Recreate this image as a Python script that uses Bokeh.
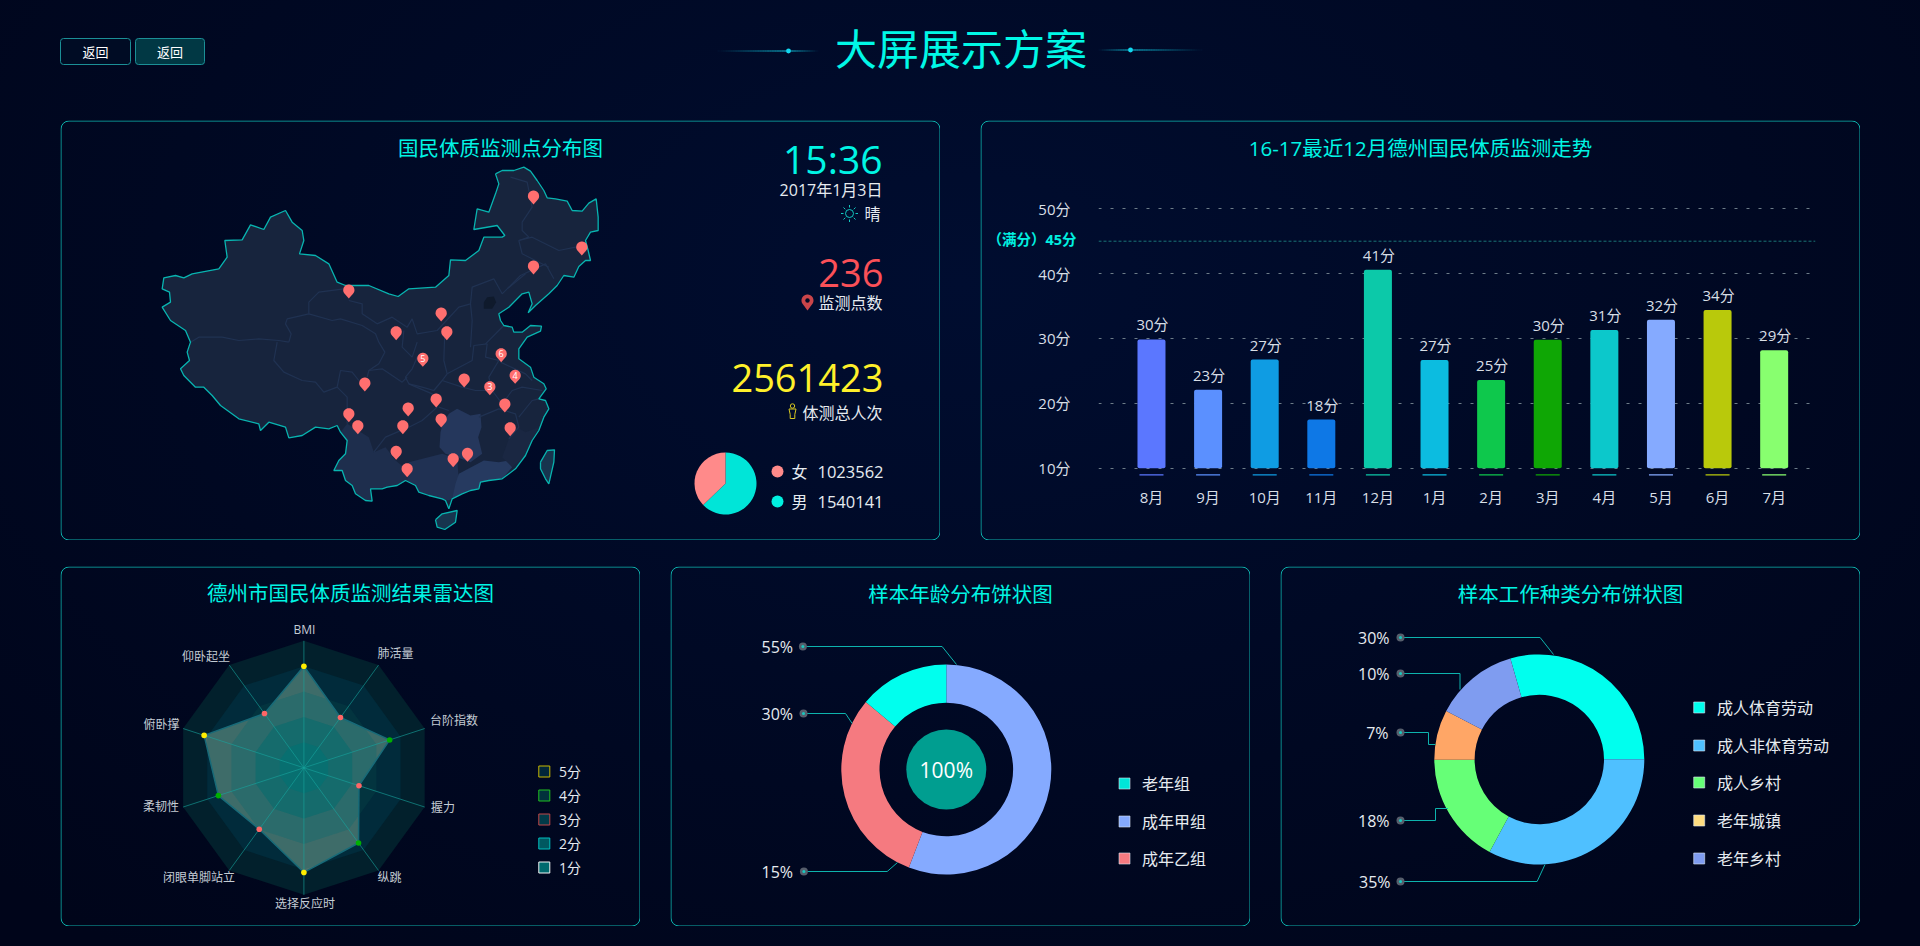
import numpy as np
from bokeh.core.properties import value
from bokeh.embed import file_html
from bokeh.layouts import column, row
from bokeh.models import BoxAnnotation, FixedTicker, GlobalInlineStyleSheet, Label, Range1d, Span
from bokeh.plotting import figure
from bokeh.resources import INLINE

# ------------------------------------------------------------------ data
page_title = "大屏展示方案"
button_labels = ["返回", "返回"]

months = ["8月", "9月", "10月", "11月", "12月", "1月", "2月", "3月", "4月", "5月", "6月", "7月"]
bar_values = [29.85, 22.1, 26.76, 17.5, 40.6, 26.7, 23.6, 29.8, 31.3, 32.9, 34.4, 28.2]
bar_labels = ["30分", "23分", "27分", "18分", "41分", "27分", "25分", "30分", "31分", "32分", "34分", "29分"]
bar_colors = ["#5b77ff", "#5b90ff", "#0f9ce3", "#0e78e6", "#0cc9a9", "#0cbce0",
              "#0ec84c", "#0fa705", "#0cc8cb", "#85aaff", "#b9c90b", "#88ff6f"]
y_ticks = [10, 20, 30, 40, 50]

radar_axes = ["BMI", "肺活量", "台阶指数", "握力", "纵跳", "选择反应时", "闭眼单脚站立", "柔韧性", "俯卧撑", "仰卧起坐"]
radar_values = [4.0, 2.45, 3.55, 2.28, 3.66, 4.12, 2.99, 3.54, 4.13, 2.64]
radar_point_colors = ["#ffee00", "#ff6666", "#00b000", "#ff6666", "#00b000",
                      "#ffee00", "#ff6666", "#00b000", "#ffee00", "#ff6666"]
radar_legend = ["5分", "4分", "3分", "2分", "1分"]

gender_labels = ["女", "男"]
gender_counts = ["1023562", "1540141"]
gender_share = [37.2, 62.8]

age_names = ["老年组", "成年甲组", "成年乙组"]
age_share = [13.9, 55.8, 30.3]
age_labels = ["15%", "55%", "30%"]

job_names = ["成人体育劳动", "成人非体育劳动", "成人乡村", "老年城镇", "老年乡村"]
job_share = [29.4, 32.9, 17.1, 7.7, 12.9]
job_labels = ["30%", "35%", "18%", "7%", "10%"]

# China map in the map's own units
china_outline = [(1020,40),(1040,30),(1075,30),(1105,20),(1125,32),(1145,60),(1165,90),(1175,112),(1200,115),(1235,122),
 (1250,150),(1280,152),(1300,128),(1322,115),(1328,170),(1328,210),(1305,215),(1290,240),(1298,270),(1305,300),(1290,300),
 (1270,318),(1255,350),(1225,345),(1205,375),(1180,400),(1140,435),(1118,457),(1130,430),(1120,395),(1100,400),(1060,440),
 (1030,460),(1035,480),(1045,495),(1070,500),(1075,515),(1100,515),(1125,495),(1158,497),(1155,512),(1115,530),(1090,565),
 (1090,595),(1125,620),(1135,650),(1165,670),(1172,685),(1150,715),(1170,720),(1180,745),(1165,770),(1150,810),(1130,840),
 (1110,885),(1080,925),(1040,955),(1000,960),(975,965),(970,985),(945,990),(920,1000),(890,1015),(880,1045),(870,1020),
 (860,1015),(820,1005),(790,995),(780,975),(750,960),(725,975),(695,980),(680,985),(645,985),(650,1022),(630,1020),
 (600,1000),(590,975),(570,960),(560,930),(535,930),(550,900),(570,880),(575,840),(555,815),(545,795),(520,805),(480,800),
 (440,825),(400,832),(390,800),(340,785),(315,810),(310,790),(250,775),(195,735),(170,705),(145,680),(120,680),(85,645),
 (75,625),(102,600),(95,575),(105,545),(90,510),(45,480),(20,440),(45,425),(42,395),(20,385),(25,352),(60,345),(85,352),
 (110,340),(190,325),(215,290),(208,240),(260,238),(285,193),(325,207),(345,170),(390,150),(410,185),(440,210),(445,240),
 (432,280),(480,285),(520,310),(545,365),(570,375),(640,375),(700,400),(728,408),(760,385),(840,380),(880,345),(885,298),
 (930,300),(970,270),(985,230),(1040,230),(1048,225),(1025,195),(955,207),(965,145),(1000,155),(1020,100),(1030,70)]
taiwan = [(1155,905),(1175,870),(1197,868),(1195,905),(1180,970),(1170,955),(1155,925)]
hainan = [(840,1078),(860,1060),(905,1050),(900,1085),(868,1107),(845,1100)]
yunnan = [(575,790),(640,830),(655,875),(690,860),(720,900),(750,925),(755,960),(725,975),(680,985),(645,985),(650,1022),
 (630,1020),(600,1000),(590,975),(570,960),(560,930),(535,930),(550,900),(570,880),(575,840),(555,815)]
guangxi = [(755,960),(760,905),(860,880),(905,895),(910,960),(890,1015),(880,1020),(860,1015),(820,1005),(790,995),(780,975)]
guangdong = [(910,940),(985,900),(1030,905),(1060,900),(1070,920),(1040,955),(1000,960),(975,965),(970,985),(945,990),
 (920,1000),(890,1015),(900,970)]
hunan = [(855,815),(862,790),(880,760),(905,745),(945,765),(975,760),(978,800),(968,830),(980,880),(945,905),(905,890),(870,880),(852,860)]
fujian = [(1040,890),(1060,835),(1085,800),(1110,815),(1150,800),(1130,840),(1110,885),(1070,920)]
beijing = [(985,425),(995,410),(1015,408),(1022,425),(1010,445),(985,445)]
map_borders = [
 [(105,545),(130,530),(200,530),(250,540),(310,535),(370,540),(400,545)],
 [(400,545),(407,520),(390,490),(395,475),(460,460),(530,480),(555,475),(620,495),(660,520),(670,545),(688,575),(670,610),(640,630),(635,650)],
 [(365,545),(355,600),(385,635),(440,660),(480,665),(505,695),(545,680),(555,630),(590,635),(610,660)],
 [(460,460),(460,425),(490,395),(565,385)],
 [(580,420),(620,430),(620,460),(665,490),(710,470),(755,500),(770,475),(785,520),(845,510),(910,440),(945,430),(950,380),(1015,355),(1040,400),(1095,345),(1170,310),(1195,355)],
 [(745,510),(740,560),(770,590),(785,545)],
 [(868,510),(865,600),(875,640),(860,660),(835,690),(800,680),(760,670),(750,650),(770,625),(785,590)],
 [(640,630),(680,625),(740,665),(755,650)],
 [(545,680),(575,710),(575,790)],
 [(760,670),(830,700),(845,740),(800,780),(760,800),(690,830),(655,875)],
 [(875,640),(950,600),(955,555),(995,550),(990,590),(1030,600),(1000,650),(1010,690),(960,690),(920,680),(860,660)],
 [(945,430),(950,480),(945,560)],
 [(990,550),(1045,495)],
 [(1035,605),(1110,640),(1130,660)],
 [(1010,690),(1040,730),(1070,690),(1100,680),(1160,690)],
 [(970,770),(1030,745),(1080,760),(1090,800),(1060,835)],
 [(850,740),(880,750)],
 [(1090,770),(1130,720),(1150,715)],
 [(1065,50),(1115,65),(1130,140),(1100,185),(1100,210),(1120,230),(1090,240),(1100,280),(1180,320)],
 [(1090,240),(1130,230),(1210,270),(1260,260),(1290,245)],
 [(1055,385),(1110,340)],
]
pins_x = [1134,1279,1134,580,857,874,722,802,1037,1079,926,1003,628,842,1048,758,580,857,607,742,1064,722,936,893,755]
pins_y = [132,285,342,414,483,539,539,619,605,670,681,704,693,741,756,768,785,801,821,821,827,898,904,920,950]
pins_tag = ["","","","","","","","5","6","4","","3","","","","","","","","","","","","",""]

# ------------------------------------------------------------------ style
FONT = "'Open Sans','Noto Sans CJK SC'"
CYAN = "#00f5e4"
TEAL = "#0db3ad"
WHITE = "#e6ebf0"
FONTV = value(FONT)


def panel(x0, y0, w, h, **kw):
    p = figure(width=w, height=h, x_range=Range1d(x0, x0 + w), y_range=Range1d(y0 + h, y0),
               toolbar_location=None, tools="", output_backend="svg", min_border=0,
               background_fill_alpha=0, border_fill_alpha=0, outline_line_color=None,
               x_axis_type=None, y_axis_type=None, frame_align=False, **kw)
    p.grid.visible = False
    return p


def frame(p, w, h):
    p.add_layout(BoxAnnotation(left=0.5, right=w - 0.5, top=0.5, bottom=h - 0.5,
                               left_units="canvas", right_units="canvas", top_units="canvas", bottom_units="canvas",
                               fill_alpha=0, line_color=TEAL, line_alpha=1, line_width=1, border_radius=8))


def heading(p, text, w, top):
    p.add_layout(Label(x=w / 2, y=top, x_units="canvas", y_units="canvas", text=text, text_align="center",
                       text_baseline="middle", text_color=CYAN, text_font_size="20.5px", text_font=FONT))


def txt(p, x, y, s, size=16, color=WHITE, align="left", style="normal"):
    p.text([x], [y], text=[s], text_font=FONTV, text_font_size=f"{size}px", text_color=color,
           text_align=align, text_baseline="middle", text_font_style=style)


def top_angles(shares, start=0.0):
    """Slice limits, clockwise from twelve o'clock, as Bokeh angles."""
    c = np.cumsum([0.0] + list(shares)) / sum(shares) * 2 * np.pi + np.deg2rad(start)
    return np.pi / 2 - c[:-1], np.pi / 2 - c[1:]


def ring(p, cx, cy, r0, r1, shares, colors, start=0.0):
    a0, a1 = top_angles(shares, start)
    p.annular_wedge(x=[cx] * len(shares), y=[cy] * len(shares), inner_radius=r0, outer_radius=r1,
                    start_angle=a0, end_angle=a1, direction="clock", fill_color=colors, line_color=None)


def callout(p, x_path, y_path, label, text_right):
    p.line(x_path, y_path, line_color=TEAL, line_width=1)
    p.circle([x_path[0]], [y_path[0]], radius=4, fill_color="#565e6c", line_color=None)
    p.circle([x_path[0]], [y_path[0]], radius=1.5, fill_color="#19c8c0", line_color=None)
    txt(p, text_right, y_path[0], label, 16, WHITE, "right")


def legend_block(p, x, ys, names, colors, tx, size=16, line="#d8e4f0"):
    p.rect([x] * len(ys), ys, width=11, height=11, fill_color=colors, line_color=line, line_width=0.6)
    for y, n in zip(ys, names):
        txt(p, tx, y, n, size, WHITE)


def teardrop(x_tip, y_tip, r, length):
    d = length - r
    t = np.arccos(r / d)
    phi = np.linspace(t, 2 * np.pi - t, 28)
    cy = y_tip - d
    xs = np.r_[x_tip, x_tip + r * np.sin(phi)]
    ys = np.r_[y_tip, cy + r * np.cos(phi)]
    return xs, ys


# ------------------------------------------------------------------ header
head = panel(0, 0, 1904, 120)
btn_left = [60, 135]
btn_right = [130, 204]
head.quad(left=btn_left, right=btn_right, top=[38, 38], bottom=[64, 64], fill_color=["#000c24", "#013844"],
          line_color="#1b8f96", border_radius=3)
for xl, xr, s in zip(btn_left, btn_right, button_labels):
    txt(head, (xl + xr) / 2, 51, s, 13, "#ffffff", "center")
txt(head, 960.5, 48, page_title, 42, "#00f8e6", "center")


def glow(p, x0, x1, xd, y):
    xs = np.linspace(x0, x1, 61)
    mid = 0.5 * (xs[:-1] + xs[1:])
    alpha = np.clip(1 - np.abs(mid - xd) / np.where(mid < xd, xd - x0, x1 - xd), 0.05, 1)
    p.segment(xs[:-1], [y] * 60, xs[1:], [y] * 60, line_color="#12d8f0", line_alpha=alpha, line_width=1.2)
    p.circle([xd], [y], radius=2.4, fill_color="#12d8f0", line_color=None)


glow(head, 717, 818, 788, 50.5)
glow(head, 1098, 1202, 1130, 49.5)

# ------------------------------------------------------------------ map panel
P1W, P1H = 880, 420
p1 = panel(60, 120, P1W, P1H, margin=(0, 0, 0, 60))
frame(p1, P1W, P1H)
heading(p1, "国民体质监测点分布图", P1W, 27)


def mx(a):
    return 155 + np.asarray(a, float) / 3


def my(a):
    return 160 + np.asarray(a, float) / 3


def poly(pts, **kw):
    a = np.array(pts, float)
    p1.patch(mx(a[:, 0]), my(a[:, 1]), **kw)


poly(china_outline, fill_color="#17243d", line_color=None)
poly(yunnan, fill_color="#1e2e4d", line_color=None)
poly(guangxi, fill_color="#203153", line_color=None)
poly(guangdong, fill_color="#263a60", line_color=None)
poly(hunan, fill_color="#25375c", line_color=None)
poly(fujian, fill_color="#1a2742", line_color=None)
poly(beijing, fill_color="#0f1a2c", line_color=None)
for b in map_borders:
    a = np.array(b, float)
    p1.line(mx(a[:, 0]), my(a[:, 1]), line_color="#203252", line_width=1.2)
for shape in (china_outline, taiwan, hainan):
    a = np.array(shape + shape[:1], float)
    if shape is not china_outline:
        p1.patch(mx(a[:, 0]), my(a[:, 1]), fill_color="#17344e", line_color=None)
    p1.line(mx(a[:, 0]), my(a[:, 1]), line_color="#08b4b0", line_width=1.3)
for x, y, tag in zip(mx(pins_x), my(pins_y), pins_tag):
    xs, ys = teardrop(x, y, 5.6, 14)
    p1.patch(xs, ys, fill_color="#ff6f6f", line_color=None)
    if tag:
        txt(p1, x, y - 8.5, tag, 9, "#ffffff", "center")

# side read-outs
txt(p1, 882, 158, "15:36", 39, "#00f5e4", "right")
txt(p1, 882, 189, "2017年1月3日", 16, WHITE, "right")
txt(p1, 880, 213, "晴", 16, WHITE, "right")
p1.circle([849], [213], radius=4, fill_alpha=0, line_color="#12c8c0", line_width=1)
sun_a = np.deg2rad(np.arange(0, 360, 45))
p1.segment(849 + 6 * np.cos(sun_a), 213 + 6 * np.sin(sun_a), 849 + 8.5 * np.cos(sun_a), 213 + 8.5 * np.sin(sun_a),
           line_color="#12c8c0", line_width=1)
txt(p1, 883, 272, "236", 38, "#fb5058", "right")
pin_x, pin_y = teardrop(807, 310, 6, 16)
p1.patch(pin_x, pin_y, fill_color="#c9454a", line_color=None)
p1.circle([807], [300], radius=2.2, fill_color="#000a25", line_color=None)
txt(p1, 882, 302, "监测点数", 16, WHITE, "right")
txt(p1, 883, 377, "2561423", 38, "#fff02a", "right")
p1.circle([792], [405.5], radius=2.2, fill_alpha=0, line_color="#d8c820", line_width=1)
p1.patch([788.5, 795.5, 794.3, 794.3, 789.7, 789.7], [408.5, 408.5, 414, 418, 418, 414],
         fill_alpha=0, line_color="#d8c820", line_width=1)
txt(p1, 882, 412, "体测总人次", 16, WHITE, "right")
ring(p1, 725, 483, 0, 31, gender_share[::-1], ["#00e5d8", "#ff8a8a"])
legend_y = [471, 501]
p1.circle([777, 777], legend_y, radius=6, fill_color=["#ff8a8a", "#00f0e0"], line_color=None)
for y, g, c in zip(legend_y, gender_labels, gender_counts):
    txt(p1, 791, y, g, 16, WHITE)
    txt(p1, 817, y, c, 16.5, WHITE)

# ------------------------------------------------------------------ bars
P2W, P2H = 880, 420
PX_PER_UNIT = 6.485
idx = list(range(len(months)))
# back layer: frame, heading and the full-marks label, which lie outside the bar plot's own frame
p2_back = panel(980, 120, P2W, P2H, margin=(0, 0, 0, 40))
frame(p2_back, P2W, P2H)
heading(p2_back, "16-17最近12月德州国民体质监测走势", P2W, 27)
txt(p2_back, 1076, 239, "（满分）45分", 14.5, "#00f0e0", "right", "bold")

p2 = figure(width=P2W, height=P2H, toolbar_location=None, tools="", output_backend="svg",
            x_range=Range1d(-0.936, 11.73), y_range=Range1d(8.72, 52.82), frame_align=False,
            min_border_left=118, min_border_right=45, min_border_top=70, min_border_bottom=64,
            background_fill_alpha=0, border_fill_alpha=0, outline_line_color=None, margin=(0, 0, 0, -P2W))
p2.xgrid.visible = False
p2.ygrid.ticker = FixedTicker(ticks=y_ticks)
p2.ygrid.grid_line_color = "#6d7c88"
p2.ygrid.grid_line_dash = "3 9"
p2.ygrid.grid_line_width = 1
p2.yaxis.ticker = FixedTicker(ticks=y_ticks)
p2.yaxis.major_label_overrides = {t: f"{t}分" for t in y_ticks}
p2.xaxis.ticker = FixedTicker(ticks=idx)
p2.xaxis.major_label_overrides = dict(zip(idx, months))
for ax, stand in ((p2.yaxis[0], 22), (p2.xaxis[0], 4)):
    ax.axis_line_color = None
    ax.major_tick_line_color = None
    ax.minor_tick_line_color = None
    ax.major_label_text_color = "#d8dfe6"
    ax.major_label_text_font = FONT
    ax.major_label_text_font_size = "15px"
    ax.major_label_standoff = stand
p2.add_layout(Span(location=45, dimension="width", line_color="#1f8f8a", line_alpha=0.8, line_dash="3 2",
                   line_width=1, level="underlay"))
p2.vbar(x=idx, bottom=10, top=bar_values, width=28 / 56.6, fill_color=bar_colors, line_color=None, border_radius=2)
half = 12 / 56.6
rule_y = 10 - 6.6 / PX_PER_UNIT
p2.segment([i - half for i in idx], [rule_y] * 12, [i + half for i in idx], [rule_y] * 12,
           line_color=bar_colors, line_width=1.2)
p2.text(idx, bar_values, text=bar_labels, text_font=FONTV, text_font_size="15px", text_color="#d8dfe6",
        text_align="center", text_baseline="middle", y_offset=-15, x_offset=1)

# ------------------------------------------------------------------ radar
P3W, P3H = 580, 360
p3 = panel(60, 566, P3W, P3H, margin=(26, 0, 0, 60))
frame(p3, P3W, P3H)
heading(p3, "德州市国民体质监测结果雷达图", P3W, 26)
RX, RY, RR, RMAX = 303.4, 767.3, 127, 5
n_axes = len(radar_axes)
step = 2 * np.pi / n_axes
rad = np.arange(n_axes) * step
ux, uy = np.sin(rad), -np.cos(rad)
band_colors = ["#02202c", "#012b3b", "#03343f", "#05565c", "#076a6c"]
inside_colors = ["#50706b", "#3e6c69", "#2b6b6b", "#156b6c", "#086f70"]
vals = np.array(radar_values)
for k, c in zip(range(RMAX, 0, -1), band_colors):
    p3.patch(RX + RR * k / RMAX * ux, RY + RR * k / RMAX * uy, fill_color=c, line_color=None)


def star_radius(radii, theta):
    """Distance from the centre to the polygon whose vertices lie on the spokes."""
    i = np.floor(theta / step).astype(int) % n_axes
    t = theta - i * step
    a, b = radii[i], radii[(i + 1) % n_axes]
    return a * b * np.sin(step) / (a * np.sin(t) + b * np.sin(step - t))


theta = np.linspace(0, 2 * np.pi, 721)[:-1]
score_r = star_radius(vals / RMAX * RR, theta)
for k, c in zip(range(RMAX, 0, -1), inside_colors):
    clip_r = np.minimum(score_r, star_radius(np.full(n_axes, RR * k / RMAX), theta))
    p3.patch(RX + clip_r * np.sin(theta), RY - clip_r * np.cos(theta), fill_color=c, line_color=None)
poly_x = RX + vals / RMAX * RR * ux
poly_y = RY + vals / RMAX * RR * uy
p3.patch(poly_x, poly_y, fill_alpha=0, line_color="#176a78", line_width=1.5)
p3.segment([RX] * n_axes, [RY] * n_axes, RX + RR * ux, RY + RR * uy, line_color="#17a59f", line_alpha=0.6, line_width=1)
p3.circle(poly_x, poly_y, radius=2.8, fill_color=radar_point_colors, line_color=None)
label_pos_x = [304, 395, 453.5, 442.6, 389, 304.5, 198.5, 160.5, 161, 205.6]
label_pos_y = [629, 653, 720, 806.7, 877, 903, 877, 805.7, 724, 656]
p3.text(label_pos_x, label_pos_y, text=radar_axes, text_font=FONTV, text_font_size="12px", text_color="#c4ccd4",
        text_align="center", text_baseline="middle")
rl_y = [771, 795, 819, 843, 867]
p3.rect([543.8] * 5, rl_y, width=11, height=11, fill_color=["#01263a", "#01303c", "#023a48", "#005860", "#006a6e"],
        line_color=["#c8b800", "#20c020", "#c04848", "#00c0c0", "#f0f4f4"], line_width=1)
for y, n in zip(rl_y, radar_legend):
    txt(p3, 558.5, y, n, 14, WHITE)

# ------------------------------------------------------------------ age donut
P4W, P4H = 580, 360
p4 = panel(670, 566, P4W, P4H, margin=(26, 0, 0, 30))
frame(p4, P4W, P4H)
heading(p4, "样本年龄分布饼状图", P4W, 27)
D1X, D1Y = 945.8, 769
order = [1, 2, 0]
ring(p4, D1X, D1Y, 66.8, 105, [age_share[i] for i in order], ["#85aaff", "#f57a80", "#00ffee"])
p4.circle([D1X], [D1Y], radius=40, fill_color="#009e90", line_color=None)
txt(p4, D1X, D1Y, "100%", 21, "#ffffff", "center")
callout(p4, [802.4, 941.6, 956], [646, 646, 664], age_labels[1], 792.6)
callout(p4, [803, 845, 851.7], [713, 713, 723], age_labels[2], 792.6)
callout(p4, [803.4, 886.7, 897], [871, 871, 862], age_labels[0], 792.6)
legend_block(p4, 1124, [783, 821, 858], age_names, ["#00e5d8", "#85aaff", "#f57a80"], 1141.4)

# ------------------------------------------------------------------ job donut
P5W, P5H = 580, 360
p5 = panel(1280, 566, P5W, P5H, margin=(26, 0, 0, 30))
frame(p5, P5W, P5H)
heading(p5, "样本工作种类分布饼状图", P5W, 27)
ring(p5, 1538.8, 759, 64.7, 105, job_share, ["#00ffee", "#4fc0ff", "#66ff77", "#ffa666", "#7f9cf0"], start=-16)
callout(p5, [1400, 1539.6, 1553], [637, 637, 654], job_labels[0], 1389)
callout(p5, [1400, 1459.5, 1459.5], [673, 673, 689], job_labels[4], 1389)
callout(p5, [1400, 1428, 1428, 1435], [732, 732, 744, 744], job_labels[3], 1388)
callout(p5, [1400, 1435, 1435, 1447.4], [820, 820, 808, 808], job_labels[2], 1389)
callout(p5, [1400, 1536.6, 1544.5], [881, 881, 864], job_labels[1], 1390)
legend_block(p5, 1698.7, [707, 745, 782, 820, 858], job_names,
             ["#00ffee", "#4fc0ff", "#66ff77", "#ffdd80", "#7f9cf0"], 1716.4)

# ------------------------------------------------------------------ page
page_css = GlobalInlineStyleSheet(css=(
    "html,body{min-height:100%;background:radial-gradient(ellipse 70% 90% at 50% 30%,"
    "#000d30 0%,#000822 60%,#00051a 100%) #000822;}"))
page = column(head, row(p1, p2_back, p2, spacing=0), row(p3, p4, p5, spacing=0), spacing=0, stylesheets=[page_css])

open("out.html", "w").write(file_html(page, INLINE))
